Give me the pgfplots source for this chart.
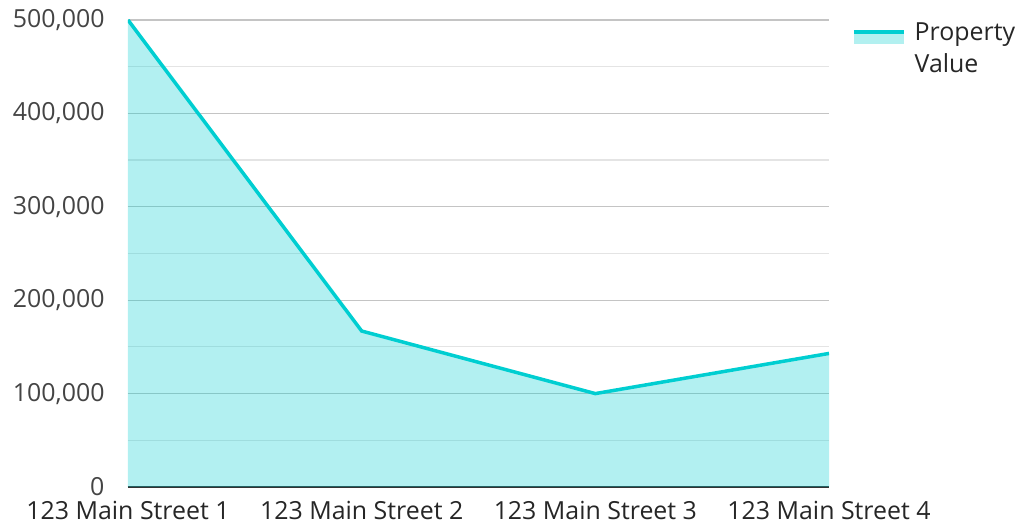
\documentclass[border=0pt]{standalone}
\usepackage{pgfplots}
\pgfplotsset{compat=1.18}
\usepackage{fontspec}
\setmainfont{Open Sans}
\definecolor{lineC}{RGB}{0,206,209}
\definecolor{fillC}{RGB}{178,240,240}
\definecolor{gridMaj}{RGB}{196,196,196}
\definecolor{gridMin}{RGB}{228,228,228}
\definecolor{txt}{RGB}{68,68,68}
\begin{document}
\begin{tikzpicture}
\begin{axis}[
  scale only axis,
  width=701bp, height=467bp,
  xmin=0, xmax=3, ymin=0, ymax=500000,
  xtick={0,1,2,3},
  xticklabels={123 Main Street 1,123 Main Street 2,123 Main Street 3,123 Main Street 4},
  ytick={0,100000,200000,300000,400000,500000},
  yticklabels={0,{100,000},{200,000},{300,000},{400,000},{500,000}},
  minor y tick num=1,
  scaled y ticks=false,
  yticklabel style={font=\fontsize{25}{30}\selectfont, text=txt, xshift=-20bp},
  xticklabel style={font=\fontsize{25}{30}\selectfont, text=black!85, inner ysep=0pt, yshift=-14bp},
  major tick length=0pt, minor tick length=0pt,
  ymajorgrids, yminorgrids,
  major grid style={gridMaj, line width=1.2bp},
  minor grid style={gridMin, line width=1.2bp},
  axis x line*=bottom, axis y line*=left,
  y axis line style={draw=none},
  x axis line style={black!80, line width=1.5bp, -},
  legend style={at={(1,1)}, anchor=north west, xshift=23bp, yshift=-1bp, draw=none, fill=none,
    font=\fontsize{25}{32}\selectfont, text=black!85, inner sep=0pt, column sep=7bp,
    nodes={align=left}},
  legend cell align=left,
  legend image code/.code={
    \path[draw=none, fill=fillC] (0bp,5bp) rectangle (50bp,17bp);
    \path[draw=lineC, line width=3.5bp] (0bp,17bp) -- (50bp,17bp);
  },
]
\addplot[draw=none, fill=lineC, fill opacity=0.3, forget plot] coordinates {(0,500000) (1,167000) (2,100000) (3,143000)} \closedcycle;
\addplot[lineC, line width=3.5bp] coordinates {(0,500000) (1,167000) (2,100000) (3,143000)};
\addlegendentry{Property\\Value}
\coordinate (bl) at (rel axis cs:0,0);
\end{axis}
\path (bl) ++(-128bp,-39bp) rectangle ++(1018bp,526bp);
\end{tikzpicture}
\end{document}
